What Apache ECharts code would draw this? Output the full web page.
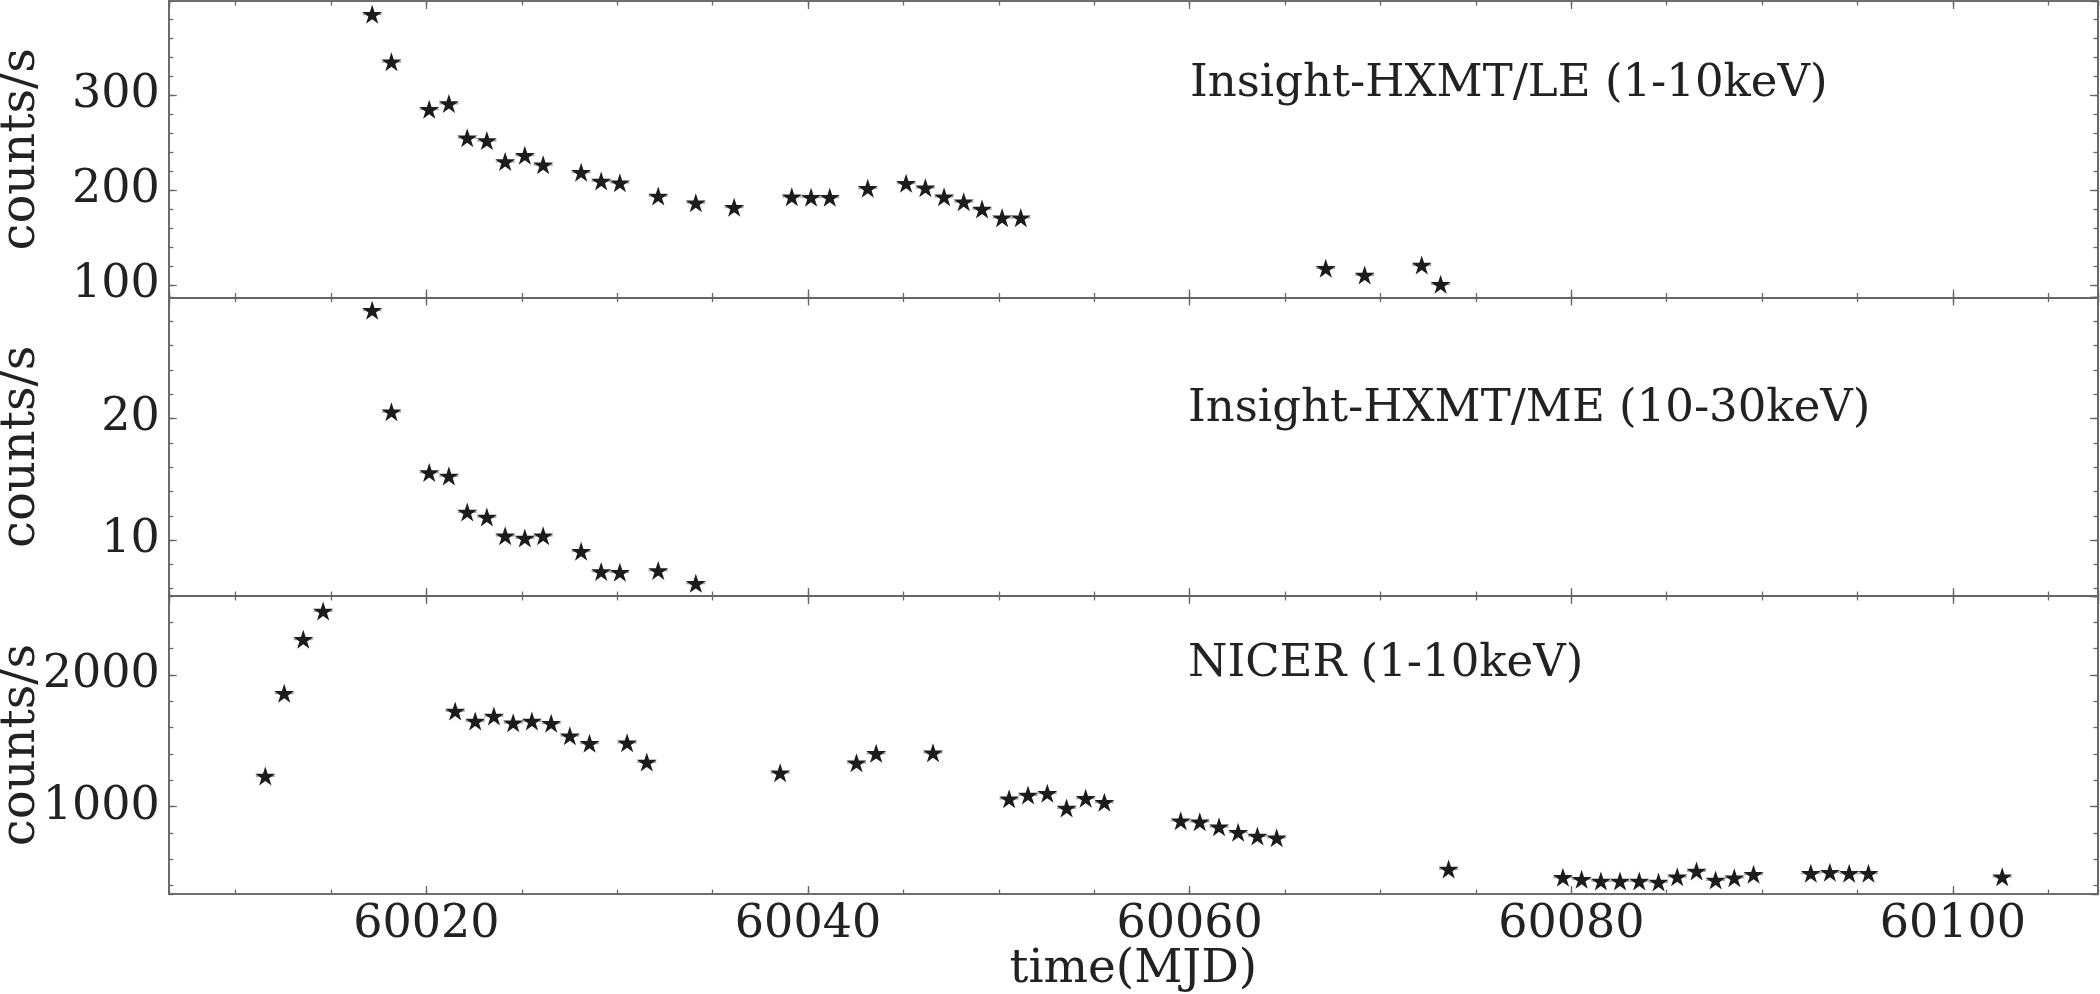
<!DOCTYPE html>
<html>
<head>
<meta charset="utf-8">
<script src="https://cdn.jsdelivr.net/npm/echarts@6/dist/echarts.min.js"></script>
<style>
  html, body { margin: 0; padding: 0; background: #fff; }
  #main { width: 2100px; height: 994px; }
</style>
</head>
<body>
<div id="main"></div>
<script>
// 数据 (MJD, counts/s)
var leTime = [60017.16, 60018.17, 60020.15, 60021.18, 60022.14, 60023.17, 60024.13, 60025.16, 60026.12, 60028.11,
              60029.16, 60030.14, 60032.15, 60034.12, 60036.13, 60039.15, 60040.16, 60041.14, 60043.13, 60045.14,
              60046.15, 60047.13, 60048.16, 60049.12, 60050.17, 60051.15, 60067.13, 60069.17, 60072.16, 60073.15];
var leRate = [385, 335, 285, 291, 255, 252, 230, 236.5, 226.6, 218.6,
              209.5, 207.7, 193.7, 186.6, 181.8, 193, 192.3, 192.3, 201.8, 207,
              202.4, 193, 187.7, 180, 170.9, 170.9, 117.5, 110.5, 121, 100.7];

var meTime = [60017.16, 60018.17, 60020.15, 60021.18, 60022.14, 60023.17, 60024.13, 60025.16, 60026.12, 60028.11,
              60029.16, 60030.14, 60032.15, 60034.12];
var meRate = [28.9, 20.56, 15.56, 15.28, 12.3, 11.9, 10.36, 10.17, 10.36, 9.08,
              7.42, 7.36, 7.5, 6.44];

var niTime = [60011.56, 60012.55, 60013.55, 60014.59, 60021.51, 60022.56, 60023.54, 60024.55, 60025.53, 60026.54,
              60027.52, 60028.55, 60030.52, 60031.55, 60038.54, 60042.54, 60043.57, 60046.55, 60050.54, 60051.53,
              60052.54, 60053.55, 60054.55, 60055.53, 60059.53, 60060.53, 60061.54, 60062.54, 60063.55, 60064.56,
              60073.57, 60079.56, 60080.54, 60081.55, 60082.55, 60083.56, 60084.57, 60085.55, 60086.56, 60087.56,
              60088.54, 60089.55, 60092.55, 60093.55, 60094.56, 60095.57, 60102.58];
var niRate = [1233, 1861, 2271, 2486, 1727, 1651, 1689, 1638, 1651, 1633,
              1539, 1481, 1486, 1339, 1258, 1334, 1405, 1410, 1061, 1089,
              1102, 990, 1064, 1033, 894, 886, 848, 806, 778, 765,
              527, 464, 449, 436, 436, 436, 428, 468, 512, 443,
              461, 487, 494, 502, 494, 494, 468];

var xErr = 0.5; // 每个点的时间误差 (天)

var panelLabels = ['Insight-HXMT/LE (1-10keV)', 'Insight-HXMT/ME (10-30keV)', 'NICER (1-10keV)'];
var panelTimes = [leTime, meTime, niTime];
var panelRates = [leRate, meRate, niRate];

// 轴范围与刻度
var xMin = 60006.5, xMax = 60107.6, xMajor = 20, xMinor = 5;
var yMin = [86.8, 5.4, 337], yMax = [399, 29.95, 2600];
var yMajor = [100, 10, 1000], yMinor = [20, 2, 200];

// 版面
var FONT = 'DejaVu Serif';
var TXT = '#222';
var AXC = '#666';
var gridLeft = 168.75, gridRight = 2098;
var panelTop = [1, 297.5, 596];
var panelH = [296.5, 298.5, 298];
var labelPos = [[1190, 83.5], [1188, 408.5], [1188, 663.5]];

var starPath = 'path://M100,0L122.45,69.1L195.11,69.1L136.33,111.8L158.78,180.9L100,138.2L41.22,180.9L63.67,111.8L4.89,69.1L77.55,69.1Z';

var grids = [], xAxes = [], yAxes = [], series = [], graphics = [];

function plain(v) { return String(v); }

function xAxisDef(g, pos, step, tickLen, showLabel, name) {
    return {
        type: 'value', gridIndex: g, position: pos,
        min: xMin, max: xMax, minInterval: step, maxInterval: step,
        axisLine: {show: true, onZero: false, lineStyle: {color: AXC, width: 1.6}},
        axisTick: {show: true, inside: true, length: tickLen, lineStyle: {color: AXC, width: 1.3}},
        axisLabel: {show: showLabel, showMinLabel: false, showMaxLabel: false, margin: 8,
                    formatter: plain, color: TXT, fontFamily: FONT, fontSize: 46},
        splitLine: {show: false},
        name: name || '', nameLocation: 'middle', nameGap: 52, nameMoveOverlap: false,
        nameTextStyle: {color: TXT, fontFamily: FONT, fontSize: 47}
    };
}

function yAxisDef(g, p, pos, step, tickLen, showLabel) {
    return {
        type: 'value', gridIndex: g, position: pos,
        min: yMin[p], max: yMax[p], minInterval: step, maxInterval: step,
        axisLine: {show: true, onZero: false, lineStyle: {color: AXC, width: 1.6}},
        axisTick: {show: true, inside: true, length: tickLen, lineStyle: {color: AXC, width: 1.3}},
        axisLabel: {show: showLabel, showMinLabel: false, showMaxLabel: false, margin: 9,
                    formatter: plain, color: TXT, fontFamily: FONT, fontSize: 46},
        splitLine: {show: false},
        name: showLabel ? 'counts/s' : '', nameLocation: 'middle', nameGap: 123, nameMoveOverlap: false,
        nameTextStyle: {color: TXT, fontFamily: FONT, fontSize: 48}
    };
}

for (var p = 0; p < 3; p++) {
    // 每个面板两层 grid：主刻度 + 次刻度
    for (var k = 0; k < 2; k++) {
        var g = p * 2 + k;
        grids.push({left: gridLeft, width: gridRight - gridLeft, top: panelTop[p], height: panelH[p],
                    containLabel: false, outerBoundsMode: 'none'});
        var major = (k === 0);
        var tl = major ? 8 : 4.5;
        var xs = major ? xMajor : xMinor;
        var ys = major ? yMajor[p] : yMinor[p];
        xAxes.push(xAxisDef(g, 'bottom', xs, tl, major && p === 2, (major && p === 2) ? 'time(MJD)' : ''));
        xAxes.push(xAxisDef(g, 'top', xs, tl, false, ''));
        yAxes.push(yAxisDef(g, p, 'left', ys, tl, major));
        yAxes.push(yAxisDef(g, p, 'right', ys, tl, false));
    }

    var pts = [];
    for (var i = 0; i < panelTimes[p].length; i++) {
        pts.push([panelTimes[p][i], panelRates[p][i]]);
    }
    var axisIdx = p * 4; // 主刻度的底部 x 轴 / 左侧 y 轴

    series.push({
        type: 'custom',
        xAxisIndex: axisIdx, yAxisIndex: axisIdx,
        data: pts,
        silent: true,
        renderItem: function (params, api) {
            var a = api.coord([api.value(0) - xErr, api.value(1)]);
            var b = api.coord([api.value(0) + xErr, api.value(1)]);
            return {
                type: 'line',
                shape: {x1: a[0], y1: a[1], x2: b[0], y2: b[1]},
                style: {stroke: '#a0a0a0', lineWidth: 1.8}
            };
        },
        z: 2
    });
    series.push({
        type: 'scatter',
        xAxisIndex: axisIdx, yAxisIndex: axisIdx,
        data: pts,
        symbol: starPath,
        symbolSize: 20,
        symbolKeepAspect: true,
        itemStyle: {color: '#1c1c1c', opacity: 1},
        z: 3
    });

    graphics.push({
        type: 'text',
        left: labelPos[p][0], top: labelPos[p][1] - 22,
        style: {text: panelLabels[p], fill: TXT, font: '45px "' + FONT + '"'}
    });
}

var chart = echarts.init(document.getElementById('main'), null, {renderer: 'canvas'});
chart.setOption({
    backgroundColor: '#fff',
    animation: false,
    grid: grids,
    xAxis: xAxes,
    yAxis: yAxes,
    series: series,
    graphic: graphics
});
</script>
</body>
</html>
